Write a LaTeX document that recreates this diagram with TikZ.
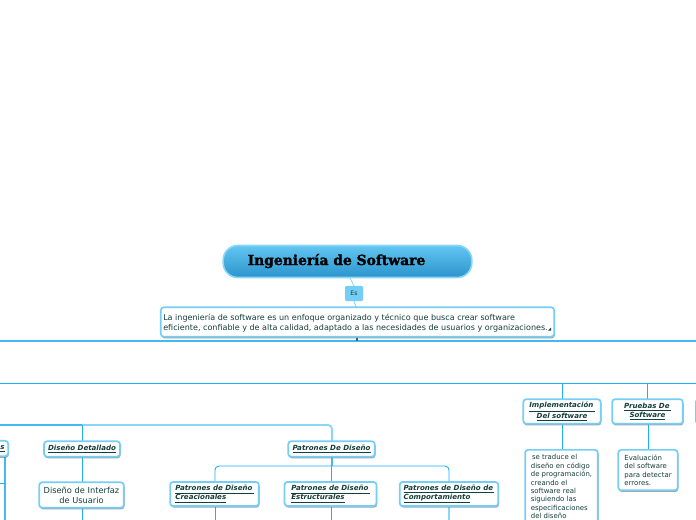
\documentclass[tikz,border=0pt]{standalone}
\usepackage{fontspec}
\setmainfont{DejaVu Sans}
\newfontfamily\titlefont[FakeBold=1.6]{DejaVu Serif}
\usetikzlibrary{shadows}
\definecolor{linkblue}{HTML}{45B8F2}
\definecolor{thinblue}{HTML}{1FAEFA}
\definecolor{linklight}{HTML}{8AD6F6}
\definecolor{boxblue}{HTML}{74CEF5}
\definecolor{titletop}{HTML}{62C6F2}
\definecolor{titlelow}{HTML}{2B94CC}
\definecolor{inkgreen}{HTML}{143F3A}
\newcommand{\hd}[1]{\underline{#1}}
\tikzset{
  box/.style={draw=boxblue,line width=1.3pt,fill=white,rounded corners=2.2pt,inner sep=0pt,
    text=inkgreen,drop shadow={shadow xshift=0.5pt,shadow yshift=-1.2pt,fill=black!55,opacity=0.65}},
  headbox/.style={box,font=\fontsize{5.3}{6.7}\selectfont\bfseries\itshape,align=center},
  notebox/.style={box,font=\fontsize{5.2}{6.3}\selectfont,align=left,inner ysep=3.6pt},
  link/.style={draw=thinblue,line width=0.72pt,rounded corners=3pt},
  thinlink/.style={draw=thinblue,line width=0.62pt,rounded corners=3pt},
  widelink/.style={draw=linkblue,line width=1.4pt,rounded corners=3pt},
  palelink/.style={draw=linklight,line width=1.4pt,rounded corners=3pt},
}
\begin{document}
\begin{tikzpicture}[x=0.75pt,y=-0.75pt]
  \useasboundingbox (0,0) rectangle (696,520);
  \clip (0,0) rectangle (696,520);

  % bus lines ends
  \coordinate (busa) at (357,341);
  \coordinate (busaleft) at (0,341);
  \coordinate (busaright) at (696,341);
  \coordinate (busb) at (0,383);
  \coordinate (busbright) at (696,383);
  \coordinate (busc) at (0,425);
  \coordinate (buscmid) at (82,425);
  \coordinate (patbus) at (332,466);
  \coordinate (leftdown) at (5,520);
  \coordinate (leftbranch) at (5,483);
  \coordinate (leftbranchend) at (0,483);
  \coordinate (interfazdown) at (82,520);
  \coordinate (creadown) at (215,520);
  \coordinate (estrdown) at (331,520);
  \coordinate (compdown) at (449,520);

  % connectors first, boxes go on top
  \draw[draw=linklight,line width=0.6pt] (350,278) -- (354,286);
  \draw[draw=linklight,line width=0.6pt] (354,301) -- (356,307);
  \draw[widelink] (busaleft) -- (busa);
  \draw[widelink] (busa) -- (busaright);
  \draw[draw=linkblue!55!black,line width=0.9pt] (357,337) -- (busa);
  \draw[thinlink] (busb) -- (busbright);
  \draw[thinlink] (562,383) -- (562,399);
  \draw[thinlink] (647,383) -- (647,399);
  \draw[widelink] (busc) -- (buscmid);
  \draw[palelink] (buscmid) -- (332,425) -- (332,441);
  \draw[link] (82,425) -- (82,441);
  \draw[widelink] (5,456) -- (leftdown);
  \draw[thinlink] (leftbranch) -- (leftbranchend);
  \draw[link] (82,457) -- (82,482);
  \draw[link] (82,508) -- (interfazdown);
  \draw[widelink] (332,457) -- (patbus);
  \draw[link] (215,482) |- (patbus) -| (449,482);
  \draw[link] (331,466) -- (331,482);
  \draw[link] (215,506) -- (creadown);
  \draw[link] (331,506) -- (estrdown);
  \draw[draw=linklight,line width=0.85pt] (449,506) -- (compdown);
  \draw[link] (562,424) -- (562,449);
  \draw[link] (648,424) -- (648,449);

  % title
  \node[draw=linklight,line width=1.2pt,rounded corners=11pt,minimum width=186.5pt,minimum height=24pt,
    top color=titletop,bottom color=titlelow] (title) at (347.5,261.5) {};
  \node[font=\titlefont\fontsize{10.4}{13}\selectfont\bfseries,text=black] (titletext) at (336.5,261) {Ingeniería de Software};
  \node[fill=boxblue,rounded corners=1pt,minimum width=13.5pt,minimum height=11.5pt,inner sep=0pt,
    font=\fontsize{4.6}{5}\selectfont,text=inkgreen] (es) at (354,293.5) {Es};
  \node[box,minimum width=295pt,minimum height=22pt,text depth=0pt,font=\fontsize{6.02}{7.6}\selectfont,align=left] (intro) at (357.5,322)
    {La ingeniería de software es un enfoque organizado y técnico que busca crear software\\
     eficiente, confiable y de alta calidad, adaptado a las necesidades de usuarios y organizaciones.\,\,\,};
  \fill[inkgreen] (intro.south east) ++(-4,-7) -- ++(-3,0) -- ++(3,-3) -- cycle;

  % left branch
  \node[box,minimum width=30pt,minimum height=11.5pt,anchor=east] (lefthead) at (9,448.5) {};
  \node[font=\fontsize{5.3}{6.7}\selectfont\bfseries\itshape,text=inkgreen,inner sep=0pt] (lefttext) at (2.4,449) {\hd{s}};
  \node[headbox,minimum width=57pt,minimum height=11.5pt] (detallado) at (82,449) {\hd{Diseño Detallado}};
  \node[box,minimum width=63.5pt,minimum height=19pt,font=\fontsize{6.2}{7.6}\selectfont,align=center] (interfaz) at (81.5,495)
    {Diseño de Interfaz\\de Usuario};

  % patrones
  \node[headbox,minimum width=65pt,minimum height=11.5pt] (patrones) at (331.5,449) {\hd{Patrones De Diseño}};
  \node[headbox,minimum width=66.5pt,minimum height=18pt,align=left] (creacionales) at (214.5,494)
    {\hd{Patrones de Diseño\,}\\\hd{Creacionales}};
  \node[headbox,minimum width=69pt,minimum height=18pt,align=left] (estructurales) at (330.5,494)
    {\hd{Patrones de Diseño\,}\\\hd{Estructurales}};
  \node[headbox,minimum width=74pt,minimum height=18pt,align=left] (comportamiento) at (449,494)
    {\hd{Patrones de Diseño de\,}\\\hd{Comportamiento}};

  % right branch
  \node[headbox,minimum width=58pt,minimum height=18.5pt] (implementacion) at (562,411.5)
    {\hd{Implementación\,}\\\hd{Del software}};
  \node[headbox,minimum width=53pt,minimum height=18.5pt] (pruebas) at (647.5,411.5)
    {\hd{Pruebas De\,}\\\hd{Software}};
  \node[headbox,minimum width=30pt,minimum height=18.5pt,anchor=west] (nextbox) at (695,411.5) {};
  \node[notebox,minimum width=54.5pt,anchor=north] (traduce) at (561.5,449)
    {\,se traduce el\\diseño en código\\de programación,\\creando el\\software real\\siguiendo las\\especificaciones\\del diseño};
  \node[notebox,minimum width=44.5pt,anchor=north] (evaluacion) at (648,449)
    {Evaluación\\del software\\para detectar\\errores.};
\end{tikzpicture}
\end{document}
